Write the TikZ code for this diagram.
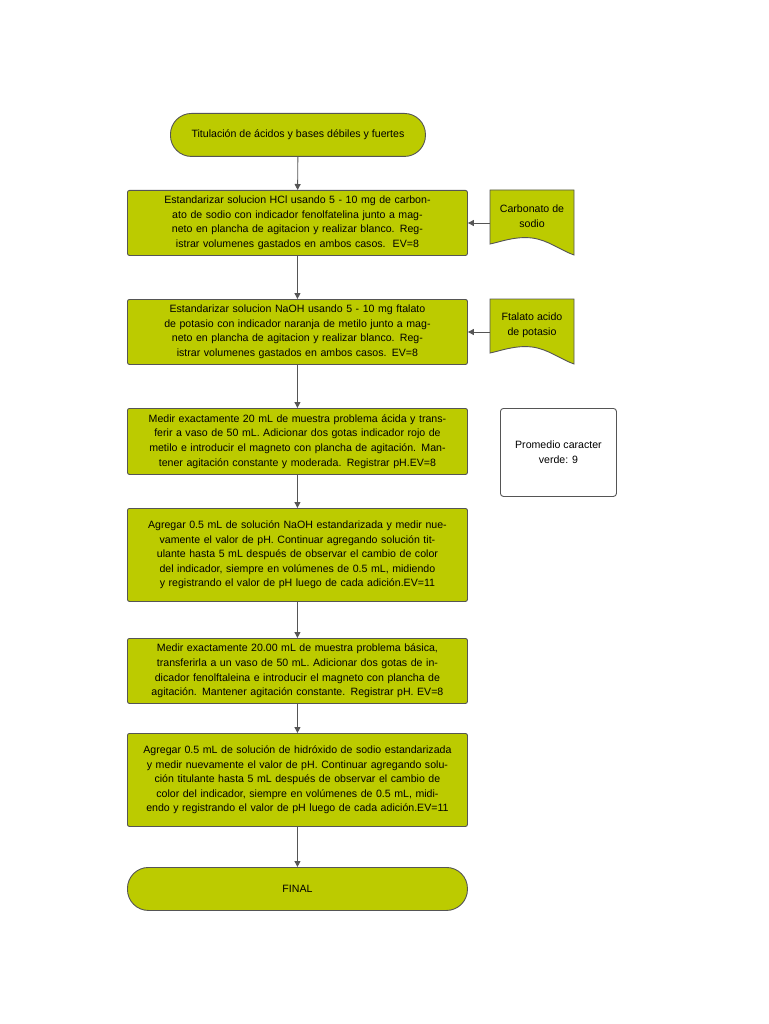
\documentclass[tikz,border=0pt]{standalone}
\usepackage{fontspec}
\setmainfont{Liberation Sans}
\usetikzlibrary{arrows.meta}
\definecolor{lime}{HTML}{BCCB00}
\definecolor{edge}{HTML}{555555}
\begin{document}
\begin{tikzpicture}[x=1pt,y=-1pt,
  box/.style={draw=edge,fill=lime,rounded corners=2pt,line width=0.9pt,align=center,font=\fontsize{10.6}{14.6}\selectfont,text width=332pt,inner sep=0pt,minimum width=340pt,anchor=north west},
  term/.style={draw=edge,fill=lime,rounded corners=21pt,line width=0.9pt,align=center,font=\fontsize{10.6}{14}\selectfont,anchor=north west,minimum height=43pt},
  arr/.style={draw=edge,line width=0.9pt,-{Triangle[length=6pt,width=6pt]}},
  doc/.style={draw=edge,fill=lime,line width=0.9pt}]
\useasboundingbox (0,0) rectangle (768,1024);
\node[term,minimum width=255pt] (s) at (170,113) {Titulación de ácidos y bases débiles y fuertes};
\node[box,minimum height=65pt] (b1) at (127,190) {Estandarizar solucion HCl usando 5 - 10 mg de carbonato de sodio con indicador fenolfatelina junto a magneto en plancha de agitacion y realizar blanco. Registrar volumenes gastados en ambos casos.\ \ EV=8};
\node[box,minimum height=65pt] (b2) at (127,299) {Estandarizar solucion NaOH usando 5 - 10 mg ftalato de potasio con indicador naranja de metilo junto a magneto en plancha de agitacion y realizar blanco. Registrar volumenes gastados en ambos casos. EV=8};
\node[box,minimum height=66pt] (b3) at (127,408) {Medir exactamente 20 mL de muestra problema ácida y transferir a vaso de 50 mL. Adicionar dos gotas indicador rojo de metilo e introducir el magneto con plancha de agitación. Mantener agitación constante y moderada. Registrar pH.EV=8};
\node[box,minimum height=93pt] (b4) at (127,508) {Agregar 0.5 mL de solución NaOH estandarizada y medir nuevamente el valor de pH. Continuar agregando solución titulante hasta 5 mL después de observar el cambio de color del indicador, siempre en volúmenes de 0.5 mL, midiendo y registrando el valor de pH luego de cada adición.EV=11};
\node[box,minimum height=65pt] (b5) at (127,638) {Medir exactamente 20.00 mL de muestra problema básica, transferirla a un vaso de 50 mL. Adicionar dos gotas de indicador fenolftaleina e introducir el magneto con plancha de agitación. Mantener agitación constante. Registrar pH. EV=8};
\node[box,minimum height=93pt] (b6) at (127,733) {Agregar 0.5 mL de solución de hidróxido de sodio estandarizada y medir nuevamente el valor de pH. Continuar agregando solución titulante hasta 5 mL después de observar el cambio de color del indicador, siempre en volúmenes de 0.5 mL, midiendo y registrando el valor de pH luego de cada adición.EV=11};
\node[term,minimum width=340pt] (f) at (127,867) {FINAL};
\node[draw=edge,fill=white,rounded corners=3pt,line width=0.9pt,minimum width=116pt,minimum height=88pt,anchor=north west,align=center,font=\fontsize{10.6}{14.6}\selectfont] (n) at (500,408) {Promedio caracter\\verde: 9};
% documents
\draw[doc] (490,190) -- (574,190) -- (574,255) .. controls (560,250) and (548,240) .. (532,238) .. controls (515,236) and (500,242) .. (490,244) -- cycle;
\node[align=center,font=\fontsize{10.6}{14.6}\selectfont] (d1) at (532,216) {Carbonato de\\sodio};
\draw[doc] (490,299) -- (574,299) -- (574,364) .. controls (560,359) and (548,349) .. (532,347) .. controls (515,345) and (500,351) .. (490,353) -- cycle;
\node[align=center,font=\fontsize{10.6}{14.6}\selectfont] (d2) at (532,325) {Ftalato acido\\de potasio};
\coordinate (d1w) at (490,223);
\coordinate (d2w) at (490,332);
\draw[arr] (s) -- (b1);
\draw[arr] (b1) -- (b2);
\draw[arr] (b2) -- (b3);
\draw[arr] (b3) -- (b4);
\draw[arr] (b4) -- (b5);
\draw[arr] (b5) -- (b6);
\draw[arr] (b6) -- (f);
\draw[arr] (d1w) -- (b1.east|-d1w);
\draw[arr] (d2w) -- (b2.east|-d2w);
\end{tikzpicture}
\end{document}
